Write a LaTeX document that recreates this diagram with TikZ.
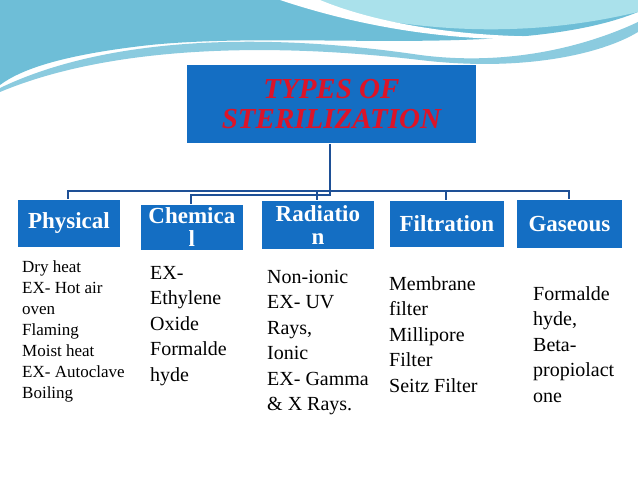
\documentclass[tikz,border=0pt]{standalone}
\usepackage{fontspec}
\setmainfont{Liberation Serif}
\newfontfamily\titlefont{Liberation Serif}
\definecolor{boxblue}{RGB}{20,110,195}
\definecolor{linkblue}{RGB}{30,80,150}
\definecolor{tealA}{RGB}{110,190,215}
\definecolor{tealB}{RGB}{170,225,235}
\definecolor{titlered}{RGB}{220,20,40}
\tikzset{
  catbox/.style={fill=boxblue,draw=white,line width=0.8pt,text=white,font=\bfseries\fontsize{23}{23}\selectfont,align=center,anchor=north west,inner sep=0pt},
  body/.style={anchor=north west,align=left,inner sep=0pt},
  link/.style={draw=linkblue,line width=1.3pt}
}
\begin{document}
\begin{tikzpicture}[x=1pt,y=-1pt]
\useasboundingbox (0,0) rectangle (638,478);
\fill[white] (0,0) rectangle (638,478);
% top waves
\fill[tealA] (0,0) -- (638,0) -- (638,12) .. controls (520,60) and (300,30) .. (150,45) .. controls (60,55) and (20,70) .. (0,85) -- cycle;
\fill[tealB] (290,0) .. controls (380,25) and (500,45) .. (638,12) -- (638,0) -- cycle;
\fill[white] (280,0) .. controls (370,30) and (480,48) .. (600,35) .. controls (480,42) and (380,25) .. (320,0) -- cycle;
\fill[tealA!80] (0,88) .. controls (100,40) and (250,30) .. (420,55) .. controls (520,68) and (600,40) .. (638,22) -- (638,32) .. controls (600,55) and (520,72) .. (420,60) .. controls (250,40) and (100,50) .. (0,92) -- cycle;
% title
\node[fill=boxblue,draw=white,line width=0.8pt,minimum width=290,minimum height=79,anchor=north west,inner sep=0pt,align=center,text=titlered,font=\titlefont\bfseries\itshape\fontsize{29}{30}\selectfont] (t) at (186,64) {TYPES OF\\STERILIZATION};
% categories
\node[catbox,minimum width=103,minimum height=48] (p) at (17,199) {Physical};
\node[catbox,minimum width=103,minimum height=46,font=\bfseries\fontsize{23}{23}\selectfont] (c) at (140,204) {Chemica\\l};
\node[catbox,minimum width=113,minimum height=49,font=\bfseries\fontsize{23}{23}\selectfont] (r) at (261,200) {Radiatio\\n};
\node[catbox,minimum width=115,minimum height=47] (f) at (389,200) {Filtration};
\node[catbox,minimum width=106,minimum height=49] (g) at (516,199) {Gaseous};
% connectors
\coordinate (hub) at (330,191);
\draw[link] (t.south -| hub) -- (hub);
\draw[link] (p.north -| 68,0) -- (68,191) -- (569,191) -- (g.north -| 569,0);
\draw[link] (hub) -- (330,195) -- (191,195) -- (c.north -| 191,0);
\draw[link] (317,191) -- (r.north -| 317,0);
\draw[link] (446,191) -- (f.north -| 446,0);
\draw[link] (317,191) rectangle (330,195);
% bodies
\node[body,font=\fontsize{17}{21}\selectfont] (pb) at (22,261) {Dry heat\\EX- Hot air\\oven\\Flaming\\Moist heat\\EX- Autoclave\\Boiling};
\node[body,font=\fontsize{20}{25.5}\selectfont] (cb) at (150,266) {EX-\\Ethylene\\Oxide\\Formalde\\hyde};
\node[body,font=\fontsize{20}{25.5}\selectfont] (rb) at (267,270) {Non-ionic\\EX- UV\\Rays,\\Ionic\\EX- Gamma\\\& X Rays.};
\node[body,font=\fontsize{20}{25.5}\selectfont] (fb) at (389,276) {Membrane\\filter\\Millipore\\Filter\\Seitz Filter};
\node[body,font=\fontsize{20}{25.5}\selectfont] (gb) at (533,286) {Formalde\\hyde,\\Beta-\\propiolact\\one};
\end{tikzpicture}
\end{document}
